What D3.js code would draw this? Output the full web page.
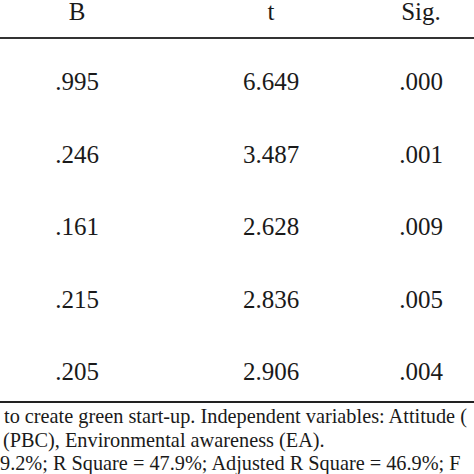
<!DOCTYPE html>
<html><head><meta charset="utf-8">
<script src="https://cdn.jsdelivr.net/npm/d3@7"></script>
<style>body{margin:0;background:#fff}</style></head>
<body><script>
const headers = ["B", "t", "Sig."];
const colB = [".995", ".246", ".161", ".215", ".205"];
const colT = ["6.649", "3.487", "2.628", "2.836", "2.906"];
const colSig = [".000", ".001", ".009", ".005", ".004"];
const notes = [
  "to create green start-up. Independent variables: Attitude (",
  "(PBC), Environmental awareness (EA).",
  "9.2%; R Square = 47.9%; Adjusted R Square = 46.9%; F"
];
const W = 474, H = 474;
const svg = d3.select("body").append("svg").attr("width", W).attr("height", H)
  .style("font-family", "'Liberation Serif','Times New Roman',serif").style("fill", "#1a1a1a");
const x = d3.scaleOrdinal().domain(headers).range([77, 271, 421]);
const y = d3.scalePoint().domain(d3.range(colB.length)).range([90, 380]);
svg.selectAll("text.h").data(headers).join("text").attr("class", "h")
  .attr("x", d => x(d)).attr("y", 20).attr("text-anchor", "middle").attr("font-size", 25).text(d => d);
svg.append("line").attr("x1", 0).attr("x2", W).attr("y1", 38).attr("y2", 38).attr("stroke", "#333").attr("stroke-width", 2);
[colB, colT, colSig].forEach((col, ci) => {
  svg.selectAll("text.c" + ci).data(col).join("text").attr("class", "c" + ci)
    .attr("x", x(headers[ci])).attr("y", (d, i) => y(i)).attr("text-anchor", "middle")
    .attr("font-size", 25).text(d => d);
});
svg.append("line").attr("x1", 0).attr("x2", W).attr("y1", 402).attr("y2", 402).attr("stroke", "#222").attr("stroke-width", 2);
const ny = [423, 447, 470], nx = [4, 3, 0];
svg.selectAll("text.n").data(notes).join("text").attr("class", "n")
  .attr("x", (d, i) => nx[i]).attr("y", (d, i) => ny[i]).attr("font-size", 20.3).text(d => d);
</script></body></html>
